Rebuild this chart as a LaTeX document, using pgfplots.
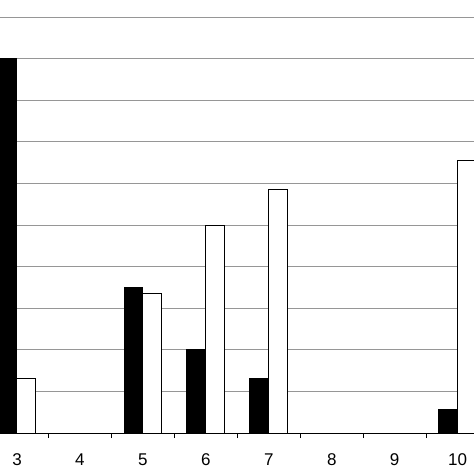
\documentclass[border=0pt]{standalone}
\usepackage{pgfplots}
\pgfplotsset{compat=1.18}
\usepackage{fontspec}
\setmainfont{Liberation Sans}
\definecolor{gridgray}{RGB}{150,150,150}
\newcommand{\tl}[1]{{\fontsize{17}{19}\selectfont #1}}
\begin{document}
\begin{tikzpicture}
\clip (0pt,-41pt) rectangle (474pt,433pt);
\begin{axis}[
  at={(0pt,0pt)}, anchor=south west,
  scale only axis, width=474pt, height=433pt,
  xmin=2.73, xmax=10.26, ymin=0, ymax=10.41,
  axis x line*=bottom, axis y line*=left,
  x axis line style={-, black, line width=1pt},
  y axis line style={draw=none},
  xtick={3,...,10}, major tick length=0pt,
  xticklabels={\tl{3},\tl{4},\tl{5},\tl{6},\tl{7},\tl{8},\tl{9},\tl{10}},
  minor xtick={3.5,4.5,...,9.5},
  minor tick length=5pt, tick align=outside,
  minor tick style={black, line width=0.8pt},
  ytick={1,...,10}, yticklabels={},
  ymajorgrids, major grid style={draw=gridgray, line width=0.9pt},
  xticklabel style={anchor=base, yshift=-32pt},
]
\addplot[ybar, bar width=0.3, bar shift=-0.15, fill=black, draw=black, line width=1pt]
  coordinates {(3,9.0) (5,3.5) (6,2.0) (7,1.3) (10,0.57)};
\addplot[ybar, bar width=0.3, bar shift=0.15, fill=white, draw=black, line width=1pt]
  coordinates {(3,1.31) (5,3.35) (6,5.0) (7,5.85) (10,6.54)};
\end{axis}
\end{tikzpicture}
\end{document}
